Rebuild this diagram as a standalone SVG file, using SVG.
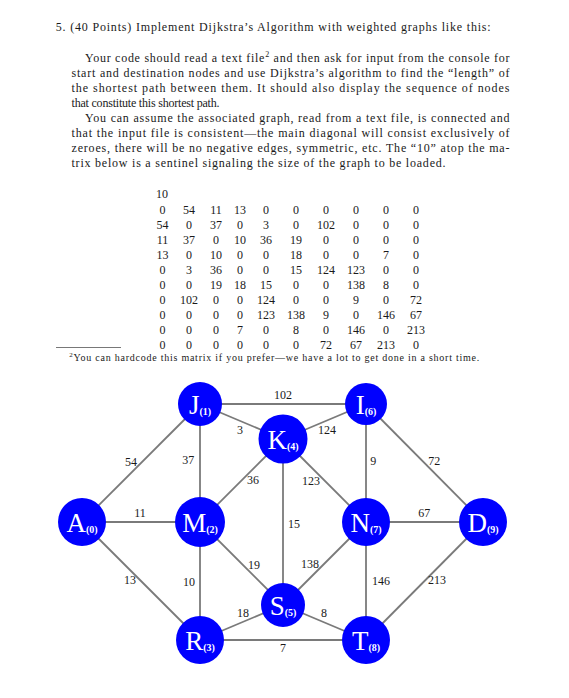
<svg xmlns="http://www.w3.org/2000/svg" width="569" height="698" viewBox="0 0 569 698">
<style>
.t{font-family:"Liberation Serif","Times New Roman",serif;font-size:12px;fill:#1a1a1a}
.m{font-family:"Liberation Serif","Times New Roman",serif;font-size:12px;fill:#1a1a1a;text-anchor:middle}
.fn{font-family:"Liberation Serif","Times New Roman",serif;font-size:10px;fill:#1a1a1a}
.lbl{font-family:"Liberation Serif","Times New Roman",serif;font-size:12px;fill:#1a1a1a;text-anchor:middle}
.edges line{stroke:#7a7a7a;stroke-width:1.8}
.node circle{fill:#0000ff}
.nl{font-family:"Liberation Serif","Times New Roman",serif;font-size:27px;fill:#fff;text-anchor:middle}
.ns{font-size:10px;font-weight:bold}
</style>
<rect width="569" height="698" fill="#fff"/>
<g id="text">
<text class="t" x="55.7" y="31" textLength="435" lengthAdjust="spacing">5. (40 Points) Implement Dijkstra’s Algorithm with weighted graphs like this:</text>
<text class="t" x="85" y="61.5" textLength="424.5" lengthAdjust="spacing">Your code should read a text file<tspan font-size="8" dy="-5">2</tspan><tspan dy="5"> and then ask for input from the console for</tspan></text>
<text class="t" x="71.5" y="76.5" textLength="438" lengthAdjust="spacing">start and destination nodes and use Dijkstra’s algorithm to find the “length” of</text>
<text class="t" x="71.5" y="91.5" textLength="438" lengthAdjust="spacing">the shortest path between them. It should also display the sequence of nodes</text>
<text class="t" x="71.5" y="106.5" textLength="148" lengthAdjust="spacing">that constitute this shortest path.</text>
<text class="t" x="85" y="121.5" textLength="424.5" lengthAdjust="spacing">You can assume the associated graph, read from a text file, is connected and</text>
<text class="t" x="71.5" y="136.5" textLength="438" lengthAdjust="spacing">that the input file is consistent—the main diagonal will consist exclusively of</text>
<text class="t" x="71.5" y="151.5" textLength="438" lengthAdjust="spacing">zeroes, there will be no negative edges, symmetric, etc. The “10” atop the ma-</text>
<text class="t" x="71.5" y="166.5" textLength="374" lengthAdjust="spacing">trix below is a sentinel signaling the size of the graph to be loaded.</text>
</g>
<g id="matrix">
<text class="m" x="162" y="197.5">10</text>
<text class="m" y="213.5"><tspan x="162.5">0</tspan><tspan x="189">54</tspan><tspan x="216">11</tspan><tspan x="240">13</tspan><tspan x="266">0</tspan><tspan x="296">0</tspan><tspan x="326">0</tspan><tspan x="356">0</tspan><tspan x="386">0</tspan><tspan x="416">0</tspan></text>
<text class="m" y="228.5"><tspan x="162.5">54</tspan><tspan x="189">0</tspan><tspan x="216">37</tspan><tspan x="240">0</tspan><tspan x="266">3</tspan><tspan x="296">0</tspan><tspan x="326">102</tspan><tspan x="356">0</tspan><tspan x="386">0</tspan><tspan x="416">0</tspan></text>
<text class="m" y="243.5"><tspan x="162.5">11</tspan><tspan x="189">37</tspan><tspan x="216">0</tspan><tspan x="240">10</tspan><tspan x="266">36</tspan><tspan x="296">19</tspan><tspan x="326">0</tspan><tspan x="356">0</tspan><tspan x="386">0</tspan><tspan x="416">0</tspan></text>
<text class="m" y="258.5"><tspan x="162.5">13</tspan><tspan x="189">0</tspan><tspan x="216">10</tspan><tspan x="240">0</tspan><tspan x="266">0</tspan><tspan x="296">18</tspan><tspan x="326">0</tspan><tspan x="356">0</tspan><tspan x="386">7</tspan><tspan x="416">0</tspan></text>
<text class="m" y="273.5"><tspan x="162.5">0</tspan><tspan x="189">3</tspan><tspan x="216">36</tspan><tspan x="240">0</tspan><tspan x="266">0</tspan><tspan x="296">15</tspan><tspan x="326">124</tspan><tspan x="356">123</tspan><tspan x="386">0</tspan><tspan x="416">0</tspan></text>
<text class="m" y="289"><tspan x="162.5">0</tspan><tspan x="189">0</tspan><tspan x="216">19</tspan><tspan x="240">18</tspan><tspan x="266">15</tspan><tspan x="296">0</tspan><tspan x="326">0</tspan><tspan x="356">138</tspan><tspan x="386">8</tspan><tspan x="416">0</tspan></text>
<text class="m" y="304"><tspan x="162.5">0</tspan><tspan x="189">102</tspan><tspan x="216">0</tspan><tspan x="240">0</tspan><tspan x="266">124</tspan><tspan x="296">0</tspan><tspan x="326">0</tspan><tspan x="356">9</tspan><tspan x="386">0</tspan><tspan x="416">72</tspan></text>
<text class="m" y="319"><tspan x="162.5">0</tspan><tspan x="189">0</tspan><tspan x="216">0</tspan><tspan x="240">0</tspan><tspan x="266">123</tspan><tspan x="296">138</tspan><tspan x="326">9</tspan><tspan x="356">0</tspan><tspan x="386">146</tspan><tspan x="416">67</tspan></text>
<text class="m" y="334"><tspan x="162.5">0</tspan><tspan x="189">0</tspan><tspan x="216">0</tspan><tspan x="240">7</tspan><tspan x="266">0</tspan><tspan x="296">8</tspan><tspan x="326">0</tspan><tspan x="356">146</tspan><tspan x="386">0</tspan><tspan x="416">213</tspan></text>
<text class="m" y="349"><tspan x="162.5">0</tspan><tspan x="189">0</tspan><tspan x="216">0</tspan><tspan x="240">0</tspan><tspan x="266">0</tspan><tspan x="296">0</tspan><tspan x="326">72</tspan><tspan x="356">67</tspan><tspan x="386">213</tspan><tspan x="416">0</tspan></text>
</g>
<g id="footnote">
<line x1="56" y1="347.5" x2="121" y2="347.5" stroke="#555" stroke-width="0.8"/>
<text class="fn" x="69.3" y="360.7" textLength="410" lengthAdjust="spacing"><tspan font-size="7" dy="-4">2</tspan><tspan dy="4">You can hardcode this matrix if you prefer—we have a lot to get done in a short time.</tspan></text>
</g>
<g id="connectors" class="edges">
<line x1="82" y1="522" x2="200" y2="404"/>
<line x1="82" y1="522" x2="200" y2="522"/>
<line x1="82" y1="522" x2="200" y2="640"/>
<line x1="200" y1="404" x2="200" y2="522"/>
<line x1="200" y1="404" x2="283" y2="439"/>
<line x1="200" y1="404" x2="366" y2="404"/>
<line x1="200" y1="522" x2="200" y2="640"/>
<line x1="200" y1="522" x2="283" y2="439"/>
<line x1="200" y1="522" x2="283" y2="605"/>
<line x1="200" y1="640" x2="283" y2="605"/>
<line x1="200" y1="640" x2="366" y2="640"/>
<line x1="283" y1="439" x2="283" y2="605"/>
<line x1="283" y1="439" x2="366" y2="404"/>
<line x1="283" y1="439" x2="366" y2="522"/>
<line x1="283" y1="605" x2="366" y2="522"/>
<line x1="283" y1="605" x2="366" y2="640"/>
<line x1="366" y1="404" x2="366" y2="522"/>
<line x1="366" y1="404" x2="483" y2="522"/>
<line x1="366" y1="522" x2="366" y2="640"/>
<line x1="366" y1="522" x2="483" y2="522"/>
<line x1="366" y1="640" x2="483" y2="522"/>
</g>
<g id="edge-labels">
<text class="lbl" x="283" y="399">102</text>
<text class="lbl" x="240" y="434">3</text>
<text class="lbl" x="327" y="434">124</text>
<text class="lbl" x="131" y="466">54</text>
<text class="lbl" x="188.3" y="464">37</text>
<text class="lbl" x="373.3" y="465">9</text>
<text class="lbl" x="434.3" y="465">72</text>
<text class="lbl" x="253" y="483.5">36</text>
<text class="lbl" x="311" y="484.5">123</text>
<text class="lbl" x="140" y="517">11</text>
<text class="lbl" x="294" y="527.5">15</text>
<text class="lbl" x="424.3" y="517">67</text>
<text class="lbl" x="254" y="568.5">19</text>
<text class="lbl" x="310" y="567.5">138</text>
<text class="lbl" x="130" y="584">13</text>
<text class="lbl" x="189" y="586">10</text>
<text class="lbl" x="381" y="585">146</text>
<text class="lbl" x="437" y="584">213</text>
<text class="lbl" x="243" y="617">18</text>
<text class="lbl" x="324" y="617">8</text>
<text class="lbl" x="283" y="652">7</text>
</g>
<g id="node-J" class="node"><circle cx="200" cy="404" r="22"/><text class="nl" x="200" y="413.5">J<tspan class="ns" dy="1">(1)</tspan></text></g>
<g id="node-I" class="node"><circle cx="366" cy="404" r="21"/><text class="nl" x="366" y="413.5">I<tspan class="ns" dy="1">(6)</tspan></text></g>
<g id="node-K" class="node"><circle cx="283" cy="439" r="24.5"/><text class="nl" x="283" y="448.5">K<tspan class="ns" dy="1">(4)</tspan></text></g>
<g id="node-A" class="node"><circle cx="82" cy="522" r="24"/><text class="nl" x="82" y="531.5">A<tspan class="ns" dy="1">(0)</tspan></text></g>
<g id="node-M" class="node"><circle cx="200" cy="522" r="25"/><text class="nl" x="200" y="531.5">M<tspan class="ns" dy="1">(2)</tspan></text></g>
<g id="node-N" class="node"><circle cx="366" cy="522" r="24"/><text class="nl" x="366" y="531.5">N<tspan class="ns" dy="1">(7)</tspan></text></g>
<g id="node-D" class="node"><circle cx="483" cy="522" r="24"/><text class="nl" x="483" y="531.5">D<tspan class="ns" dy="1">(9)</tspan></text></g>
<g id="node-S" class="node"><circle cx="283" cy="605" r="22"/><text class="nl" x="283" y="614.5">S<tspan class="ns" dy="1">(5)</tspan></text></g>
<g id="node-R" class="node"><circle cx="200" cy="640" r="24"/><text class="nl" x="200" y="649.5">R<tspan class="ns" dy="1">(3)</tspan></text></g>
<g id="node-T" class="node"><circle cx="366" cy="640" r="24"/><text class="nl" x="366" y="649.5">T<tspan class="ns" dy="1">(8)</tspan></text></g>
</svg>
